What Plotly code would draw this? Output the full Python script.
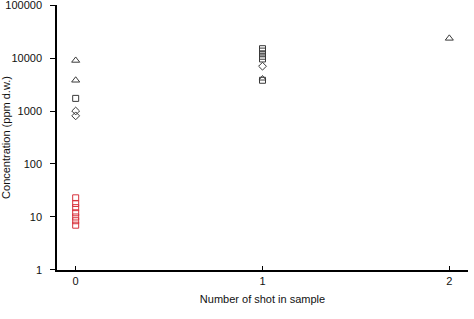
import plotly.graph_objects as go

# Data (ppm d.w.)
tri_x = [0, 0, 2]
tri_y = [9000, 3800, 23500]

sq_x = [0, 1, 1, 1, 1, 1, 1]
sq_y = [1730, 15000, 13500, 12000, 10800, 9600, 3800]

dia_x = [0, 0, 1]
dia_y = [1000, 810, 7000]

tri2_x = [1]
tri2_y = [4100]

red_x = [0, 0, 0, 0, 0, 0, 0]
red_y = [23, 18, 15, 12, 10, 8.5, 7]

ytick_vals = [1, 10, 100, 1000, 10000, 100000]
ytick_text = ["1", "10", "100", "1000", "10000", "100000"]
xtick_vals = [0, 1, 2]

dark = "#3a3a3a"
red = "#d8323c"

fig = go.Figure()

def add(x, y, symbol, color, size):
    fig.add_trace(go.Scatter(
        x=x, y=y, mode="markers",
        marker=dict(symbol=symbol, size=size, color=color,
                    line=dict(color=color, width=1)),
        showlegend=False, hoverinfo="x+y"))

add(sq_x, sq_y, "square-open", dark, 6)
add(tri_x, tri_y, "triangle-up-open", dark, 7)
add(tri2_x, tri2_y, "triangle-up-open", dark, 6)
add(dia_x, dia_y, "diamond-open", dark, 6)
add(red_x, red_y, "square-open", red, 6)

font = dict(family="Liberation Sans, Arial, sans-serif", size=11, color="#111")

fig.update_layout(
    width=474, height=319,
    margin=dict(l=57, r=6, t=5, b=49),
    paper_bgcolor="white", plot_bgcolor="white",
    font=font,
    xaxis=dict(
        range=[-0.1, 2.1], tickvals=xtick_vals, ticktext=[str(v) for v in xtick_vals],
        showgrid=False, zeroline=False, showline=True, linecolor="black", linewidth=1.5,
        ticks="inside", ticklen=4, tickcolor="black", tickwidth=1, automargin=False,
        title=dict(text="Number of shot in sample", font=font, standoff=9),
    ),
    yaxis=dict(
        type="log", range=[-0.0005, 5.0005], tickvals=ytick_vals, ticktext=ytick_text,
        showgrid=False, zeroline=False, showline=True, linecolor="black", linewidth=1.5,
        ticks="outside", ticklen=5, tickcolor="black", tickwidth=1,
        ticklabelstandoff=6, ticklabeloverflow="allow", automargin=False,
        title=dict(text="Concentration (ppm d.w.)", font=font, standoff=4),
    ),
)

fig.write_html("out.html")
